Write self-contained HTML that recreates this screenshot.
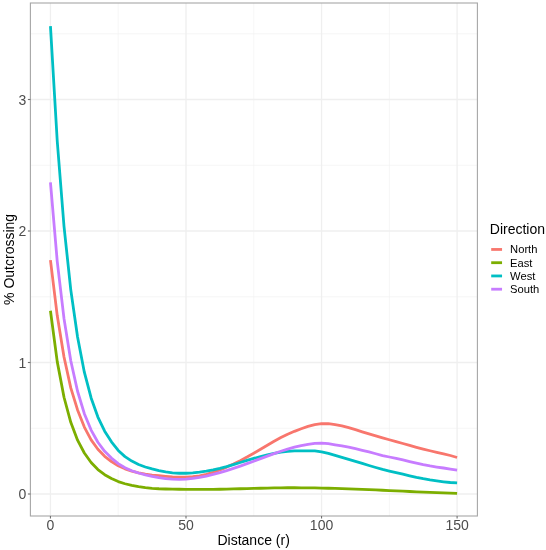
<!DOCTYPE html>
<html><head><meta charset="utf-8"><style>
html,body{margin:0;padding:0;background:#fff;}
svg{display:block;}
text{font-family:"Liberation Sans",Arial,sans-serif;}
.mn{stroke:#F2F2F2;stroke-width:0.7;}
.mj{stroke:#EFEFEF;stroke-width:1.3;}
.tk{stroke:#707070;stroke-width:1.1;}
.bd{fill:none;stroke:#A6A6A6;stroke-width:1.1;}
.ax{font-size:14px;fill:#4D4D4D;}
.ti{font-size:14px;fill:#000;}
.lt{font-size:11.2px;fill:#000;}
.cv{fill:none;stroke-width:2.8;stroke-linejoin:round;stroke-linecap:butt;}
.lk{stroke-width:2.8;}
</style></head><body>
<svg width="546" height="550" viewBox="0 0 546 550">
<rect x="0" y="0" width="546" height="550" fill="#fff"/>
<line x1="118.23" y1="3.0" x2="118.23" y2="516.0" class="mn"/>
<line x1="253.78" y1="3.0" x2="253.78" y2="516.0" class="mn"/>
<line x1="389.33" y1="3.0" x2="389.33" y2="516.0" class="mn"/>
<line x1="30.4" y1="428.25" x2="477.4" y2="428.25" class="mn"/>
<line x1="30.4" y1="296.75" x2="477.4" y2="296.75" class="mn"/>
<line x1="30.4" y1="165.25" x2="477.4" y2="165.25" class="mn"/>
<line x1="30.4" y1="33.75" x2="477.4" y2="33.75" class="mn"/>
<line x1="50.45" y1="3.0" x2="50.45" y2="516.0" class="mj"/>
<line x1="186.00" y1="3.0" x2="186.00" y2="516.0" class="mj"/>
<line x1="321.55" y1="3.0" x2="321.55" y2="516.0" class="mj"/>
<line x1="457.10" y1="3.0" x2="457.10" y2="516.0" class="mj"/>
<line x1="30.4" y1="494.00" x2="477.4" y2="494.00" class="mj"/>
<line x1="30.4" y1="362.50" x2="477.4" y2="362.50" class="mj"/>
<line x1="30.4" y1="231.00" x2="477.4" y2="231.00" class="mj"/>
<line x1="30.4" y1="99.50" x2="477.4" y2="99.50" class="mj"/>
<defs><clipPath id="cp"><rect x="30.4" y="3.0" width="447.0" height="513.0"/></clipPath></defs>
<g clip-path="url(#cp)">
<path d="M50.45,260.11 L57.23,315.55 L64.01,357.04 L70.78,387.92 L77.56,409.94 L84.34,427.03 L91.12,439.90 L97.89,449.30 L104.67,456.31 L111.45,461.54 L118.23,465.71 L125.00,468.82 L131.78,471.09 L138.56,472.85 L145.34,474.18 L152.11,475.05 L158.89,475.73 L165.67,476.37 L172.45,476.86 L179.22,477.13 L186.00,477.11 L192.78,476.69 L199.56,475.80 L206.33,474.36 L213.11,472.37 L219.89,469.92 L226.67,467.10 L233.44,464.01 L240.22,460.65 L247.00,457.04 L253.78,453.22 L260.55,449.27 L267.33,445.30 L274.11,441.31 L280.89,437.58 L287.66,434.27 L294.44,431.33 L301.22,428.75 L308.00,426.40 L314.77,424.55 L321.55,423.63 L328.33,423.73 L335.11,424.61 L341.88,425.95 L348.66,427.67 L355.44,429.70 L362.22,431.86 L368.99,433.94 L375.77,435.92 L382.55,437.86 L389.33,439.73 L396.10,441.57 L402.88,443.50 L409.66,445.45 L416.44,447.32 L423.21,449.08 L429.99,450.74 L436.77,452.31 L443.55,453.83 L450.32,455.51 L457.10,457.50" stroke="#F8766D" class="cv"/>
<path d="M50.45,310.70 L57.23,361.63 L64.01,397.24 L70.78,422.35 L77.56,440.20 L84.34,453.01 L91.12,462.56 L97.89,469.58 L104.67,474.69 L111.45,478.52 L118.23,481.59 L125.00,483.76 L131.78,485.37 L138.56,486.61 L145.34,487.59 L152.11,488.30 L158.89,488.76 L165.67,489.02 L172.45,489.16 L179.22,489.27 L186.00,489.37 L192.78,489.44 L199.56,489.47 L206.33,489.45 L213.11,489.38 L219.89,489.25 L226.67,489.11 L233.44,488.94 L240.22,488.77 L247.00,488.60 L253.78,488.44 L260.55,488.27 L267.33,488.11 L274.11,487.97 L280.89,487.85 L287.66,487.77 L294.44,487.75 L301.22,487.78 L308.00,487.86 L314.77,487.97 L321.55,488.11 L328.33,488.27 L335.11,488.45 L341.88,488.67 L348.66,488.89 L355.44,489.14 L362.22,489.40 L368.99,489.68 L375.77,489.96 L382.55,490.26 L389.33,490.56 L396.10,490.87 L402.88,491.18 L409.66,491.49 L416.44,491.79 L423.21,492.10 L429.99,492.39 L436.77,492.68 L443.55,492.95 L450.32,493.22 L457.10,493.47" stroke="#7CAE00" class="cv"/>
<path d="M50.45,26.20 L57.23,140.97 L64.01,226.32 L70.78,289.85 L77.56,337.06 L84.34,372.20 L91.12,397.95 L97.89,417.04 L104.67,431.13 L111.45,441.86 L118.23,450.46 L125.00,456.60 L131.78,461.10 L138.56,464.45 L145.34,466.97 L152.11,468.93 L158.89,470.56 L165.67,471.88 L172.45,472.79 L179.22,473.24 L186.00,473.24 L192.78,472.89 L199.56,472.20 L206.33,471.22 L213.11,469.93 L219.89,468.37 L226.67,466.55 L233.44,464.56 L240.22,462.48 L247.00,460.40 L253.78,458.41 L260.55,456.53 L267.33,454.83 L274.11,453.37 L280.89,452.18 L287.66,451.33 L294.44,450.88 L301.22,450.82 L308.00,450.78 L314.77,450.96 L321.55,451.82 L328.33,453.44 L335.11,455.44 L341.88,457.38 L348.66,459.35 L355.44,461.38 L362.22,463.44 L368.99,465.49 L375.77,467.51 L382.55,469.43 L389.33,471.04 L396.10,472.53 L402.88,474.18 L409.66,475.84 L416.44,477.38 L423.21,478.74 L429.99,479.93 L436.77,480.93 L443.55,481.78 L450.32,482.51 L457.10,482.96" stroke="#00BFC4" class="cv"/>
<path d="M50.45,182.40 L57.23,261.30 L64.01,318.65 L70.78,360.70 L77.56,391.24 L84.34,413.66 L91.12,430.06 L97.89,442.24 L104.67,451.33 L111.45,458.07 L118.23,463.60 L125.00,467.77 L131.78,470.76 L138.56,473.02 L145.34,474.84 L152.11,476.35 L158.89,477.65 L165.67,478.64 L172.45,479.19 L179.22,479.33 L186.00,479.07 L192.78,478.40 L199.56,477.37 L206.33,476.03 L213.11,474.43 L219.89,472.60 L226.67,470.58 L233.44,468.39 L240.22,466.08 L247.00,463.69 L253.78,461.20 L260.55,458.62 L267.33,456.08 L274.11,453.61 L280.89,451.27 L287.66,449.13 L294.44,447.22 L301.22,445.61 L308.00,444.31 L314.77,443.42 L321.55,443.14 L328.33,443.67 L335.11,444.76 L341.88,445.93 L348.66,447.23 L355.44,448.70 L362.22,450.29 L368.99,451.97 L375.77,453.76 L382.55,455.56 L389.33,457.00 L396.10,458.33 L402.88,459.90 L409.66,461.52 L416.44,463.08 L423.21,464.57 L429.99,465.90 L436.77,467.02 L443.55,467.99 L450.32,469.09 L457.10,470.11" stroke="#C77CFF" class="cv"/>
</g>
<rect x="30.4" y="3.0" width="447.00" height="513.00" class="bd"/>
<line x1="27.9" y1="494.00" x2="30.4" y2="494.00" class="tk"/>
<line x1="27.9" y1="362.50" x2="30.4" y2="362.50" class="tk"/>
<line x1="27.9" y1="231.00" x2="30.4" y2="231.00" class="tk"/>
<line x1="27.9" y1="99.50" x2="30.4" y2="99.50" class="tk"/>
<line x1="50.45" y1="516.0" x2="50.45" y2="518.60" class="tk"/>
<line x1="186.00" y1="516.0" x2="186.00" y2="518.60" class="tk"/>
<line x1="321.55" y1="516.0" x2="321.55" y2="518.60" class="tk"/>
<line x1="457.10" y1="516.0" x2="457.10" y2="518.60" class="tk"/>
<text x="26.2" y="499.20" text-anchor="end" class="ax">0</text>
<text x="26.2" y="367.70" text-anchor="end" class="ax">1</text>
<text x="26.2" y="236.20" text-anchor="end" class="ax">2</text>
<text x="26.2" y="104.70" text-anchor="end" class="ax">3</text>
<text x="50.45" y="530.0" text-anchor="middle" class="ax">0</text>
<text x="186.00" y="530.0" text-anchor="middle" class="ax">50</text>
<text x="321.55" y="530.0" text-anchor="middle" class="ax">100</text>
<text x="457.10" y="530.0" text-anchor="middle" class="ax">150</text>
<text x="253.65" y="544.8" text-anchor="middle" class="ti">Distance (r)</text>
<text transform="translate(13.6,259.4) rotate(-90)" text-anchor="middle" class="ti">% Outcrossing</text>
<text x="489.8" y="234.3" class="ti">Direction</text>
<line x1="491.2" y1="249.45" x2="502.05" y2="249.45" stroke="#F8766D" class="lk"/>
<text x="510.1" y="253.35" class="lt">North</text>
<line x1="491.2" y1="262.70" x2="502.05" y2="262.70" stroke="#7CAE00" class="lk"/>
<text x="510.1" y="266.60" class="lt">East</text>
<line x1="491.2" y1="275.95" x2="502.05" y2="275.95" stroke="#00BFC4" class="lk"/>
<text x="510.1" y="279.85" class="lt">West</text>
<line x1="491.2" y1="289.20" x2="502.05" y2="289.20" stroke="#C77CFF" class="lk"/>
<text x="510.1" y="293.10" class="lt">South</text>
</svg>
</body></html>
